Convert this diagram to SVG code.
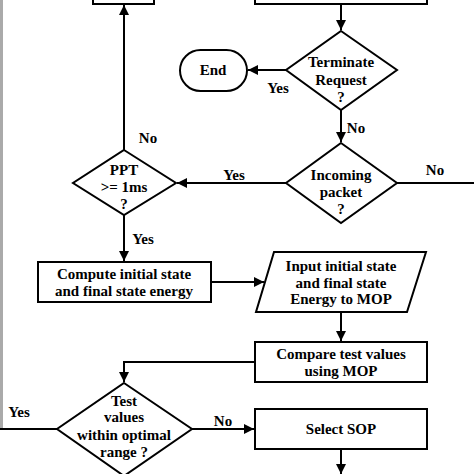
<svg xmlns="http://www.w3.org/2000/svg" width="474" height="474" viewBox="0 0 474 474">
<defs>
<marker id="ah" viewBox="0 0 10 10" refX="10" refY="5" markerWidth="10" markerHeight="10" markerUnits="userSpaceOnUse" orient="auto">
<path d="M0,0 L10,5 L0,10 Z" fill="#000"/>
</marker>
<style>
.s{fill:#fff;stroke:#000;stroke-width:2}
.c{fill:none;stroke:#000;stroke-width:2}
.a{marker-end:url(#ah)}
text{font-family:"Liberation Serif","Times New Roman",serif;font-weight:bold;font-size:15px;text-anchor:middle;dominant-baseline:central;fill:#000}
</style>
</defs>
<rect width="474" height="474" fill="#fff"/>
<g id="connectors">
<path class="c a" d="M124,150 V5"/>
<path class="c a" d="M341,4 V30"/>
<path class="c a" d="M286,70 H248"/>
<path class="c a" d="M341,110 V142"/>
<path class="c" d="M397,183 H474"/>
<path class="c a" d="M286,183 H177"/>
<path class="c a" d="M124,215 V261"/>
<path class="c a" d="M211,282 H264"/>
<path class="c a" d="M341,312 V341"/>
<path class="c a" d="M255,362 H124 V382"/>
<path class="c" d="M57,429 H0"/>
<path d="M1.5,0 V428" fill="none" stroke="#aaa" stroke-width="3"/>
<path class="c a" d="M192,429 H254"/>
<path class="c a" d="M341,449 V474"/>
<text x="278" y="88">Yes</text>
<text x="356" y="128">No</text>
<text x="435" y="170">No</text>
<text x="234" y="175">Yes</text>
<text x="148" y="138">No</text>
<text x="143" y="239">Yes</text>
<text x="19" y="412">Yes</text>
<text x="223" y="421">No</text>
</g>
<g id="top-left-box"><rect class="s" x="93" y="-10" width="61" height="14"/></g>
<g id="top-right-box"><rect class="s" x="255" y="-10" width="172" height="14"/></g>
<g id="terminate">
<polygon class="s" points="341,31 397,70 341,110 286,70"/>
<text x="341" y="62">Terminate</text>
<text x="341" y="80">Request</text>
<text x="341" y="97">?</text>
</g>
<g id="end">
<rect class="s" x="180" y="50" width="67" height="41" rx="20.5"/>
<text x="213" y="70">End</text>
</g>
<g id="incoming">
<polygon class="s" points="341,143 397,183 341,223 286,183"/>
<text x="341" y="175">Incoming</text>
<text x="341" y="192">packet</text>
<text x="341" y="209">?</text>
</g>
<g id="ppt">
<polygon class="s" points="124,150 176,183 124,215 73,183"/>
<text x="124" y="170">PPT</text>
<text x="124" y="187">&gt;= 1ms</text>
<text x="124" y="204">?</text>
</g>
<g id="compute">
<rect class="s" x="38" y="262" width="173" height="40"/>
<text x="124" y="274">Compute initial state</text>
<text x="124" y="291">and final state energy</text>
</g>
<g id="input">
<polygon class="s" points="274,252 426,252 407,312 256,312"/>
<text x="341" y="266">Input initial state</text>
<text x="341" y="283">and final state</text>
<text x="341" y="299">Energy to MOP</text>
</g>
<g id="compare">
<rect class="s" x="255" y="342" width="172" height="40"/>
<text x="341" y="354">Compare test values</text>
<text x="341" y="371">using MOP</text>
</g>
<g id="test">
<polygon class="s" points="124,383 192,429 124,476 57,429"/>
<text x="124" y="401">Test</text>
<text x="124" y="417">values</text>
<text x="124" y="435">within optimal</text>
<text x="124" y="452">range ?</text>
</g>
<g id="select">
<rect class="s" x="255" y="409" width="172" height="40"/>
<text x="341" y="429">Select SOP</text>
</g>
</svg>
